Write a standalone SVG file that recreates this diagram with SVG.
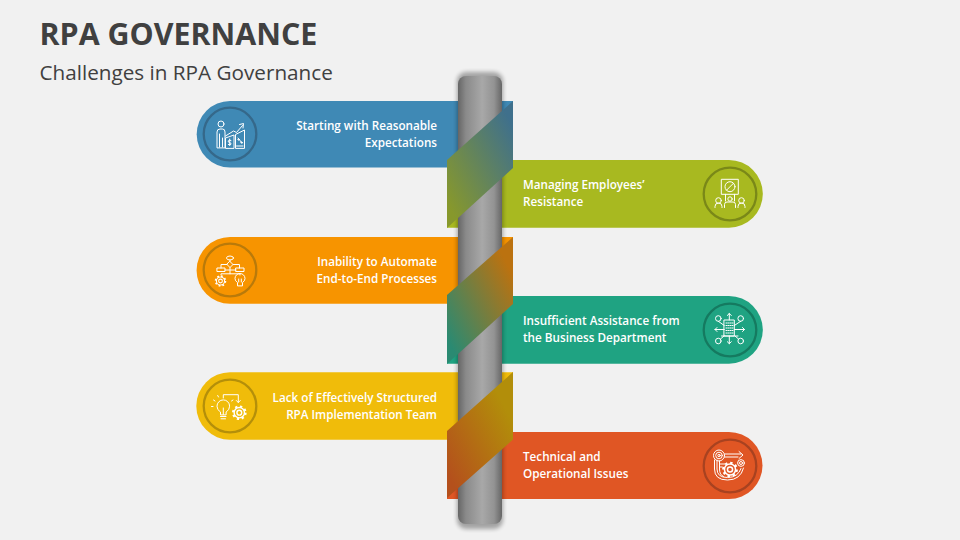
<svg xmlns="http://www.w3.org/2000/svg" xmlns:xlink="http://www.w3.org/1999/xlink" width="960" height="540" viewBox="0 0 960 540">
<style>
.title{font:700 30.400px "Open Sans",sans-serif;fill:#404040}
.sub{font:400 20.700px "Open Sans",sans-serif;fill:#404040}
.lab{font:600 11.700px "Open Sans",sans-serif;fill:#fff}
.r{text-anchor:end}
.ring{fill:none;stroke-width:2.300}
.ic{fill:none;stroke:#fff;stroke-width:1;stroke-linecap:round;stroke-linejoin:round}
</style>
<defs>
<linearGradient id="pole" x1="0" x2="1" y1="0" y2="0">
<stop offset="0" stop-color="#666"/><stop offset=".18" stop-color="#8a8a8a"/><stop offset=".55" stop-color="#a8a8a8"/><stop offset=".82" stop-color="#939393"/><stop offset="1" stop-color="#666"/>
</linearGradient>
<linearGradient id="rb1" x1="0" y1="1" x2="1" y2="0"><stop offset=".1" stop-color="#87982c"/><stop offset=".9" stop-color="#3f708c"/></linearGradient>
<linearGradient id="rb2" x1="0" y1="1" x2="1" y2="0"><stop offset=".1" stop-color="#2a8a72"/><stop offset=".85" stop-color="#bb7210"/></linearGradient>
<linearGradient id="rb3" x1="0" y1="1" x2="1" y2="0"><stop offset=".1" stop-color="#b4501c"/><stop offset=".8" stop-color="#b28e0a"/></linearGradient>
<filter id="blur" x="-30%" y="-5%" width="160%" height="110%"><feGaussianBlur stdDeviation="2"/></filter>
<g id="gear"><circle r="1.7"/><circle r="3.7"/><circle r="4.5" stroke-width="1.5" stroke-dasharray="1.6 1.93" stroke-linecap="butt"/></g>
</defs>
<rect width="960" height="540" fill="#f1f1f1"/>
<text class="title" x="39.500" y="45">RPA GOVERNANCE</text>
<text class="sub" x="39.500" y="80">Challenges in RPA Governance</text>

<g id="bars">
<path id="bar1" d="M513 101H230a33.300 33.300 0 0 0 0 66.600H513Z" fill="#3f89b5"/>
<path id="bar2" d="M447 160H729a33.800 33.800 0 0 1 0 67.700H447Z" fill="#a8b920"/>
<path id="bar3" d="M513 237H230a33.300 33.300 0 0 0 0 66.800H513Z" fill="#f79400"/>
<path id="bar4" d="M447 296H729a33.800 33.800 0 0 1 0 67.700H447Z" fill="#1fa382"/>
<path id="bar5" d="M513 372.300H230a33.700 33.700 0 0 0 0 67.400H513Z" fill="#f0bc0a"/>
<path id="bar6" d="M447 432H729a33.500 33.500 0 0 1 0 67H447Z" fill="#e05624"/>
</g>

<g id="pole-group">
<rect x="457" y="72" width="46" height="457" rx="9" fill="#000" opacity=".32" filter="url(#blur)"/>
<rect x="458" y="76" width="44" height="448" rx="8" fill="url(#pole)"/>
</g>

<g id="ribbons">
<path d="M447 160 513 101V168L447 228Z" fill="url(#rb1)"/>
<path d="M447 295 513 237V304L447 364Z" fill="url(#rb2)"/>
<path d="M447 431 513 372V439.500L447 498Z" fill="url(#rb3)"/>
</g>

<g id="node1">
<circle class="ring" cx="230" cy="134" r="26.300" stroke="#35688a"/>
<g class="ic">
<circle cx="221" cy="124" r="3"/>
<path d="M217 147.500V132q0-3 3-3h2.500q2.500 0 2.500 3v15.500ZM219.500 134V147M222.500 138V147"/>
<path d="M225.500 136l8-5 3 1.500 6-7M239.500 124.500l4-1-.5 4.500"/>
<path d="M225.500 148V138l8.500-3V148ZM235.500 148V134.500l9-4.500V148ZM236.500 146H243"/>
<path d="M231 140.500q-2-1-2.700.3t1.200 1.700 1.500 1.700-2.700.3M229.700 139V145.500M238 138l4 5"/>
<circle cx="238.500" cy="139.500" r=".7"/><circle cx="241.500" cy="142.500" r=".7"/>
</g>
<text class="lab r" x="437" y="130">Starting with Reasonable</text>
<text class="lab r" x="437" y="147">Expectations</text>
</g>

<g id="node2">
<circle class="ring" cx="730" cy="194" r="26.300" stroke="#7a8818"/>
<g class="ic">
<path d="M721.700 179.300H738.300V194.300H721.700Z"/>
<circle cx="730" cy="186.700" r="5"/><path d="M726.500 190.200 733.500 183.200"/>
<path d="M725.500 194.300V201M734.500 194.300V201"/>
<circle cx="730" cy="199" r="2.200"/>
<path d="M724.500 207.500V204.500q0-2.500 2.500-2.500h6q2.500 0 2.500 2.500v3"/>
<circle cx="718.500" cy="200.500" r="2.800"/><circle cx="741.500" cy="200.500" r="2.800"/>
<path d="M715 207.500V206.500q0-3.500 3.500-3.500t3.500 3.500v1M738 207.500V206.500q0-3.500 3.500-3.500t3.500 3.500v1"/>
</g>
<text class="lab" x="523" y="189">Managing Employees’</text>
<text class="lab" x="523" y="206">Resistance</text>
</g>

<g id="node3">
<circle class="ring" cx="230" cy="270" r="26.300" stroke="#b97a0a"/>
<g class="ic">
<ellipse cx="230" cy="258" rx="3.500" ry="2"/>
<path d="M230 260V261.500M230 261.500l3 3-3 3-3-3ZM227 264.500H221V268M233 264.500H239.500V268"/>
<path d="M217.300 268H225V271.500H217.300ZM236 268H244V271.500H236ZM225 270H236M230 267.500V273.800M221 275V273.800H240V275"/>
<use href="#gear" transform="translate(220.500 281) scale(1.100)"/>
<path d="M237.500 285.500V282.500q-2.500-1.500-2.500-4a5 5 0 0 1 10 0q0 2.500-2.500 4V285.500Z"/>
<path d="M238.700 282V279M241.300 282V279"/>
</g>
<text class="lab r" x="437" y="266">Inability to Automate</text>
<text class="lab r" x="437" y="283">End-to-End Processes</text>
</g>

<g id="node4">
<circle class="ring" cx="730" cy="330" r="26.300" stroke="#157a60"/>
<g class="ic">
<path d="M724.300 320H734.300V336H724.300ZM721.500 336H738"/>
<path d="M726 323H733M726 325.500H733M726 328H733M726 330.500H733M726 333H733" stroke-dasharray="1 1"/>
<path d="M729.300 320V313.500M727.300 315.500l2-2 2 2M729.300 336V343.700M727.300 341.700l2 2 2-2"/>
<path d="M724.300 329.500H715M717 327.500l-2 2 2 2M734.300 329.500H744.500M742.500 327.500l2 2-2 2"/>
<circle cx="718.300" cy="318.500" r="2.800"/><circle cx="740.700" cy="318.500" r="2.800"/>
<circle cx="718.300" cy="341" r="2.800"/><circle cx="740.700" cy="341" r="2.800"/>
<path d="M718.300 321.300 724.300 325.500M740.700 321.300 734.300 325.500M720.500 339 724 336M738.500 339 735 336"/>
</g>
<text class="lab" x="523" y="325">Insufficient Assistance from</text>
<text class="lab" x="523" y="342">the Business Department</text>
</g>

<g id="node5">
<circle class="ring" cx="230" cy="406" r="26.300" stroke="#b48f0a"/>
<g class="ic">
<path d="M220.500 414.500V412q-3.500-2-3.500-5.800a6.300 6.300 0 0 1 12.600 0q0 3.800-3.500 5.800v2.500Z"/>
<path d="M220.500 416.500H226M221 418.800H225.500M223.300 414.500V408"/>
<path d="M223.300 398V394.700H238.300V402.500M236.300 400.500l2 2 2-2"/>
<path d="M215 401l-1.500-1M231.500 401l1.500-1M218.500 397l-.8-1.500M213 406.500h-1.500"/>
<use href="#gear" transform="translate(239.300 412.700) scale(1.400)"/>
</g>
<text class="lab r" x="437" y="402">Lack of Effectively Structured</text>
<text class="lab r" x="437" y="419">RPA Implementation Team</text>
</g>

<g id="node6">
<circle class="ring" cx="730" cy="466" r="26.300" stroke="#a84220"/>
<g class="ic">
<circle cx="719" cy="455.500" r="5.500"/><circle cx="719" cy="455.500" r="3.300"/><circle cx="719" cy="455.500" r="1.200"/>
<path d="M724.500 454H741M724.500 457H738M739 451.500 743 455l-4 3.500"/>
<use href="#gear" transform="translate(730 469.500) scale(1.500)"/>
<circle cx="741" cy="463" r="3.400"/><circle cx="741" cy="463" r="1.500"/>
<path d="M714.500 460V469q0 11 13 11 13 0 16-12M717 460V469q0 8.500 10.500 8.500 10.500 0 13.500-9M719.500 461V469q0 6 4 7.500"/>
<path d="M719.500 464H725M719.500 467H722"/>
</g>
<text class="lab" x="523" y="461">Technical and</text>
<text class="lab" x="523" y="478">Operational Issues</text>
</g>
</svg>
